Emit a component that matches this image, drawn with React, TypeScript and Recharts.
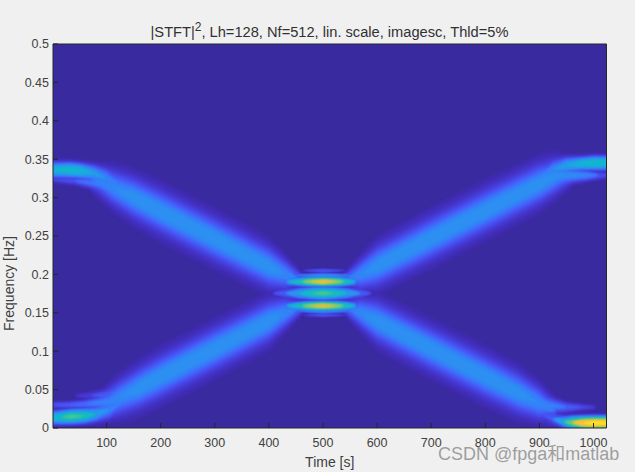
import { Area, ComposedChart, XAxis, YAxis } from "recharts";

// each ridge: [times, centre freq, power 0..1, spread in Hz]
const armFallLeft = [
  [70, 110, 150, 200, 300, 400, 430, 455, 475],
  [0.325, 0.314, 0.3, 0.282, 0.246, 0.21, 0.2, 0.194, 0.191],
  [0.12, 0.21, 0.235, 0.24, 0.24, 0.235, 0.21, 0.15, 0.05],
  [0.014, 0.021, 0.024, 0.025, 0.025, 0.024, 0.018, 0.01, 0.005],
];
const armRiseLeft = [
  [90, 120, 160, 200, 300, 400, 430, 455, 475],
  [0.03, 0.038, 0.052, 0.067, 0.103, 0.139, 0.15, 0.156, 0.159],
  [0.16, 0.21, 0.235, 0.24, 0.24, 0.235, 0.21, 0.15, 0.05],
  [0.015, 0.021, 0.024, 0.025, 0.025, 0.024, 0.018, 0.01, 0.005],
];
const armRiseRight = [
  [525, 545, 570, 600, 700, 800, 900, 930, 960],
  [0.191, 0.194, 0.2, 0.211, 0.247, 0.283, 0.318, 0.328, 0.332],
  [0.05, 0.15, 0.21, 0.235, 0.24, 0.24, 0.235, 0.22, 0.14],
  [0.005, 0.01, 0.018, 0.024, 0.025, 0.025, 0.024, 0.021, 0.014],
];
const armFallRight = [
  [525, 545, 570, 600, 700, 800, 860, 900, 930],
  [0.159, 0.156, 0.15, 0.139, 0.103, 0.067, 0.046, 0.032, 0.022],
  [0.05, 0.15, 0.21, 0.235, 0.24, 0.24, 0.235, 0.21, 0.13],
  [0.005, 0.01, 0.018, 0.024, 0.025, 0.025, 0.024, 0.02, 0.014],
];

const topLeftUpper = [
  [-10, 30, 50, 75, 100, 125],
  [0.336, 0.336, 0.335, 0.332, 0.325, 0.316],
  [0.33, 0.4, 0.38, 0.27, 0.21, 0.14],
  [0.0085, 0.0085, 0.0085, 0.0095, 0.013, 0.016],
];
const topLeftLower = [
  [-10, 40, 70, 100, 130],
  [0.324, 0.322, 0.32, 0.317, 0.31],
  [0.06, 0.12, 0.18, 0.2, 0.15],
  [0.005, 0.005, 0.007, 0.011, 0.015],
];
const topRightUpper = [
  [900, 925, 950, 975, 1000, 1036],
  [0.327, 0.336, 0.342, 0.344, 0.345, 0.345],
  [0.12, 0.21, 0.28, 0.36, 0.42, 0.4],
  [0.016, 0.013, 0.0095, 0.0075, 0.0075, 0.0075],
];
const topRightLower = [
  [930, 960, 990, 1010, 1036],
  [0.326, 0.329, 0.329, 0.329, 0.329],
  [0.2, 0.22, 0.2, 0.12, 0.05],
  [0.014, 0.009, 0.006, 0.005, 0.005],
];
const bottomLeftBright = [
  [-10, 15, 35, 60, 80, 105, 130],
  [0.013, 0.014, 0.015, 0.016, 0.018, 0.024, 0.034],
  [0.3, 0.42, 0.54, 0.44, 0.28, 0.2, 0.14],
  [0.0075, 0.0075, 0.0075, 0.008, 0.009, 0.012, 0.015],
];
const bottomLeftMiddle = [
  [-10, 30, 60, 90, 120],
  [0.03, 0.03, 0.031, 0.033, 0.038],
  [0.1, 0.14, 0.17, 0.2, 0.18],
  [0.004, 0.004, 0.005, 0.008, 0.012],
];
const bottomLeftFaint = [
  [40, 70, 100, 130],
  [0.042, 0.042, 0.043, 0.046],
  [0.03, 0.08, 0.14, 0.15],
  [0.005, 0.005, 0.007, 0.01],
];
const bottomRightBright = [
  [905, 925, 945, 960, 980, 1000, 1036],
  [0.018, 0.012, 0.008, 0.007, 0.0065, 0.0065, 0.0065],
  [0.08, 0.14, 0.3, 0.6, 0.9, 1, 0.97],
  [0.012, 0.008, 0.0065, 0.0065, 0.0065, 0.0065, 0.0065],
];
const bottomRightUpper = [
  [880, 920, 950, 980, 1005],
  [0.036, 0.029, 0.027, 0.027, 0.027],
  [0.2, 0.2, 0.15, 0.1, 0.04],
  [0.014, 0.01, 0.006, 0.004, 0.004],
];

// fringes where the two chirps cross
const crossHigh = [
  [433, 460, 475, 500, 525, 540, 560],
  [0.1905, 0.1905, 0.1905, 0.1905, 0.1905, 0.1905, 0.1905],
  [0.22, 0.48, 0.68, 0.85, 0.68, 0.48, 0.24],
  [0.0041, 0.0041, 0.0041, 0.0041, 0.0041, 0.0041, 0.0041],
];
const crossMid = [
  [407, 430, 455, 480, 500, 520, 545, 570, 590],
  [0.1754, 0.1754, 0.1754, 0.1754, 0.1754, 0.1754, 0.1754, 0.1754, 0.1754],
  [0.04, 0.14, 0.28, 0.46, 0.55, 0.46, 0.28, 0.14, 0.04],
  [0.0062, 0.0062, 0.0062, 0.0062, 0.0062, 0.0062, 0.0062, 0.0062, 0.0062],
];
const crossLow = [
  [433, 460, 475, 500, 525, 540, 560],
  [0.159, 0.159, 0.159, 0.159, 0.159, 0.159, 0.159],
  [0.22, 0.47, 0.66, 0.82, 0.66, 0.47, 0.24],
  [0.0041, 0.0041, 0.0041, 0.0041, 0.0041, 0.0041, 0.0041],
];
const thinHigh1 = [[445, 500, 560], [0.1983, 0.1983, 0.1983], [0.05, 0.28, 0.05], [0.0018, 0.0018, 0.0018]];
const thinHigh2 = [[460, 500, 545], [0.2048, 0.2048, 0.2048], [0.03, 0.15, 0.03], [0.0016, 0.0016, 0.0016]];
const thinLow1 = [[445, 500, 560], [0.1527, 0.1527, 0.1527], [0.05, 0.28, 0.05], [0.0018, 0.0018, 0.0018]];
const thinLow2 = [[460, 500, 545], [0.1471, 0.1471, 0.1471], [0.03, 0.15, 0.03], [0.0016, 0.0016, 0.0016]];

const ridges = [
  armFallLeft, armRiseLeft, armRiseRight, armFallRight,
  topLeftUpper, topLeftLower, topRightUpper, topRightLower,
  bottomLeftBright, bottomLeftMiddle, bottomLeftFaint, bottomRightBright, bottomRightUpper,
  crossHigh, crossMid, crossLow, thinHigh1, thinHigh2, thinLow1, thinLow2,
];

const levels = [
  0.015, 0.03, 0.05, 0.07, 0.09, 0.11, 0.13, 0.15, 0.17, 0.19, 0.21, 0.24, 0.28, 0.33,
  0.38, 0.43, 0.48, 0.53, 0.58, 0.63, 0.68, 0.73, 0.78, 0.83, 0.88, 0.93, 0.97,
];
const levelColors = [
  "#3f2bb0", "#4230bd", "#4536cb", "#473ed9", "#4847e6", "#4852f0", "#465df7", "#426afb", "#3c77fb",
  "#3383f7", "#2c8ff1", "#269be9", "#1fa8e0", "#14b2d6", "#10b9c8", "#20bfb4", "#38c59e", "#5ac988",
  "#7ccb72", "#9ccb5e", "#bac850", "#d4c248", "#ebbd42", "#f8c038", "#fbcd30", "#f9de28", "#f8ec20",
];

const timeTicks = [100, 200, 300, 400, 500, 600, 700, 800, 900, 1000];
const freqTicks = [0, 0.05, 0.1, 0.15, 0.2, 0.25, 0.3, 0.35, 0.4, 0.45, 0.5];
const imageBounds = [{ t: 1, band: [0, 0.5] }, { t: 1024, band: [0, 0.5] }];

// contour of one ridge at one level, gaussian cross-section
function contour(ridge: number[][], level: number) {
  const [times, freqs, power, spread] = ridge;
  return times.map((t, i) => {
    const half = power[i] > level ? spread[i] * Math.sqrt(Math.log(power[i] / level)) : 0;
    return { t, band: [freqs[i] - half, freqs[i] + half] };
  });
}

const axisColor = "#262626";
const tickStyle = { fontSize: 12.5, fill: "#404040", fontFamily: "Liberation Sans" };
const blank = () => "";

export default function App() {
  return (
    <div
      style={{
        position: "absolute",
        left: 0,
        top: 0,
        width: 635,
        height: 472,
        background: "#f0f0f0",
        overflow: "hidden",
        fontFamily: "Liberation Sans",
      }}
    >
      <style>{`.contour path { filter: blur(0.8px); }`}</style>
      <ComposedChart width={635} height={472} margin={{ top: 43, right: 27.5, bottom: 43, left: 52 }}>
        <Area
          data={imageBounds}
          dataKey="band"
          stroke="none"
          fill="#3a2a9f"
          fillOpacity={1}
          isAnimationActive={false}
          dot={false}
          activeDot={false}
        />
        {levels.flatMap((level, li) =>
          ridges
            .filter((r) => Math.max(...r[2]) > level)
            .map((r) => (
              <Area
                key={`${li}-${ridges.indexOf(r)}`}
                className="contour"
                data={contour(r, level)}
                dataKey="band"
                stroke="none"
                fill={levelColors[li]}
                fillOpacity={1}
                isAnimationActive={false}
                dot={false}
                activeDot={false}
              />
            ))
        )}
        <XAxis
          dataKey="t"
          type="number"
          domain={[1, 1024]}
          ticks={timeTicks}
          interval={0}
          height={1}
          allowDataOverflow
          tickSize={-5}
          tickMargin={15}
          tick={tickStyle}
          stroke={axisColor}
          label={{ value: "Time [s]", position: "bottom", offset: 28, fontSize: 14, fill: "#404040" }}
        />
        <XAxis
          xAxisId="top"
          orientation="top"
          dataKey="t"
          type="number"
          domain={[1, 1024]}
          ticks={timeTicks}
          interval={0}
          height={1}
          tickSize={-5}
          tickFormatter={blank}
          stroke={axisColor}
        />
        <YAxis
          type="number"
          domain={[0, 0.5]}
          ticks={freqTicks}
          interval={0}
          width={1}
          allowDataOverflow
          tickSize={-5}
          tickMargin={9}
          tick={tickStyle}
          stroke={axisColor}
          label={{ value: "Frequency [Hz]", angle: -90, position: "left", offset: 43, fontSize: 14, fill: "#404040" }}
        />
        <YAxis
          yAxisId="right"
          orientation="right"
          type="number"
          domain={[0, 0.5]}
          ticks={freqTicks}
          interval={0}
          width={1}
          tickSize={-5}
          tickFormatter={blank}
          stroke={axisColor}
        />
      </ComposedChart>
      <div
        style={{
          position: "absolute",
          left: 53,
          width: 553,
          top: 23,
          textAlign: "center",
          fontSize: 14.65,
          lineHeight: "18px",
          color: "#303030",
          whiteSpace: "nowrap",
        }}
      >
        |STFT|<sup style={{ fontSize: 12, lineHeight: 0 }}>2</sup>, Lh=128, Nf=512, lin. scale, imagesc, Thld=5%
      </div>
      <div
        style={{
          position: "absolute",
          left: 438,
          top: 443,
          fontSize: 18,
          lineHeight: "22px",
          color: "rgba(130,130,130,0.75)",
          fontFamily: "Liberation Sans, Noto Sans CJK SC",
          whiteSpace: "nowrap",
        }}
      >
        CSDN @fpga和matlab
      </div>
    </div>
  );
}
